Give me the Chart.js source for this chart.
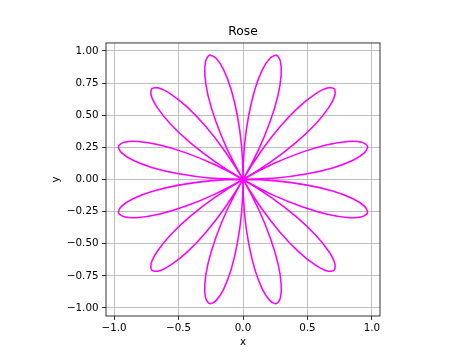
<!DOCTYPE html>
<html>
<head>
<meta charset="utf-8">
<script src="https://cdn.jsdelivr.net/npm/chart.js@4/dist/chart.umd.min.js"></script>
<style>
html,body{margin:0;padding:0;background:#fff;}
canvas{display:block;}
</style>
</head>
<body>
<canvas id="c" width="474" height="355"></canvas>
<script>
// Rose curve points, traced in drawing order
const roseX = [
 0, 0.259, 0.498, 0.701, 0.853, 0.943, 0.966, 0.921, 0.814, 0.653, 0.453, 0.230,
 0, -0.218, -0.410, -0.561, -0.663, -0.712, -0.707, -0.653, -0.557, -0.430, -0.287, -0.139,
 0, 0.120, 0.211, 0.271, 0.296, 0.290, 0.259, 0.209, 0.150, 0.092, 0.044, 0.011,
 0, 0.011, 0.044, 0.092, 0.150, 0.209, 0.259, 0.290, 0.296, 0.271, 0.211, 0.120,
 0, -0.139, -0.287, -0.430, -0.557, -0.653, -0.707, -0.712, -0.663, -0.561, -0.410, -0.218,
 0, 0.230, 0.453, 0.653, 0.814, 0.921, 0.966, 0.943, 0.853, 0.701, 0.498, 0.259,
 0, -0.259, -0.498, -0.701, -0.853, -0.943, -0.966, -0.921, -0.814, -0.653, -0.453, -0.230,
 0, 0.218, 0.410, 0.561, 0.663, 0.712, 0.707, 0.653, 0.557, 0.430, 0.287, 0.139,
 0, -0.120, -0.211, -0.271, -0.296, -0.290, -0.259, -0.209, -0.150, -0.092, -0.044, -0.011,
 0, -0.011, -0.044, -0.092, -0.150, -0.209, -0.259, -0.290, -0.296, -0.271, -0.211, -0.120,
 0, 0.139, 0.287, 0.430, 0.557, 0.653, 0.707, 0.712, 0.663, 0.561, 0.410, 0.218,
 0, -0.230, -0.453, -0.653, -0.814, -0.921, -0.966, -0.943, -0.853, -0.701, -0.498, -0.259,
 0
];
const roseY = [
 0, 0.011, 0.044, 0.092, 0.150, 0.209, 0.259, 0.290, 0.296, 0.271, 0.211, 0.120,
 0, -0.139, -0.287, -0.430, -0.557, -0.653, -0.707, -0.712, -0.663, -0.561, -0.410, -0.218,
 0, 0.230, 0.453, 0.653, 0.814, 0.921, 0.966, 0.943, 0.853, 0.701, 0.498, 0.259,
 0, -0.259, -0.498, -0.701, -0.853, -0.943, -0.966, -0.921, -0.814, -0.653, -0.453, -0.230,
 0, 0.218, 0.410, 0.561, 0.663, 0.712, 0.707, 0.653, 0.557, 0.430, 0.287, 0.139,
 0, -0.120, -0.211, -0.271, -0.296, -0.290, -0.259, -0.209, -0.150, -0.092, -0.044, -0.011,
 0, -0.011, -0.044, -0.092, -0.150, -0.209, -0.259, -0.290, -0.296, -0.271, -0.211, -0.120,
 0, 0.139, 0.287, 0.430, 0.557, 0.653, 0.707, 0.712, 0.663, 0.561, 0.410, 0.218,
 0, -0.230, -0.453, -0.653, -0.814, -0.921, -0.966, -0.943, -0.853, -0.701, -0.498, -0.259,
 0, 0.259, 0.498, 0.701, 0.853, 0.943, 0.966, 0.921, 0.814, 0.653, 0.453, 0.230,
 0, -0.218, -0.410, -0.561, -0.663, -0.712, -0.707, -0.653, -0.557, -0.430, -0.287, -0.139,
 0, 0.120, 0.211, 0.271, 0.296, 0.290, 0.259, 0.209, 0.150, 0.092, 0.044, 0.011,
 0
];
const xTicks = [-1.0, -0.5, 0.0, 0.5, 1.0];
const yTicks = [-1.0, -0.75, -0.5, -0.25, 0.0, 0.25, 0.5, 0.75, 1.0];
const axisMin = -1.0625, axisMax = 1.0625;
const chartTitle = 'Rose';
const xLabel = 'x', yLabel = 'y';

const points = roseX.map((x, i) => ({x: x, y: roseY[i]}));
const FONT = 'DejaVu Sans';
const fmt = (v, d) => { const s = Math.abs(v).toFixed(d); return (v < 0 ? '\u2212' : '') + s; };

const frame = {
  id: 'frame',
  afterDraw(chart) {
    const a = chart.chartArea, ctx = chart.ctx;
    ctx.save();
    ctx.strokeStyle = '#000';
    ctx.lineWidth = 0.8;
    ctx.strokeRect(a.left, a.top, a.right - a.left, a.bottom - a.top);
    ctx.restore();
  }
};

new Chart(document.getElementById('c'), {
  type: 'scatter',
  data: {
    datasets: [{
      data: points,
      showLine: true,
      borderColor: '#ff00ff',
      backgroundColor: '#ff00ff',
      borderWidth: 1.55,
      pointRadius: 0,
      pointHoverRadius: 0,
      tension: 0.3,
      fill: false
    }]
  },
  options: {
    responsive: false,
    animation: false,
    devicePixelRatio: 1,
    layout: { padding: { left: 0, right: 94, top: 0, bottom: 0 } },
    plugins: {
      legend: { display: false },
      tooltip: { enabled: false },
      title: {
        display: true,
        fullSize: false,
        text: chartTitle,
        color: '#000',
        font: { family: FONT, size: 12.3, weight: 'normal' },
        padding: { top: 24.6, bottom: 3.6 }
      }
    },
    scales: {
      x: {
        type: 'linear',
        min: axisMin, max: axisMax,
        afterBuildTicks: s => { s.ticks = xTicks.map(v => ({value: v})); },
        afterFit: s => { s.height = 39; },
        ticks: {
          color: '#000',
          font: { family: FONT, size: 10.3 },
          padding: 2.5,
          maxRotation: 0,
          callback: v => fmt(v, 1)
        },
        grid: { color: '#b0b0b0', lineWidth: 0.8, tickLength: 4, tickColor: '#000', tickWidth: 0.8 },
        border: { display: false },
        title: {
          display: true, text: xLabel, color: '#000',
          font: { family: FONT, size: 10.3 },
          padding: { top: 0, bottom: 6.9 }
        }
      },
      y: {
        type: 'linear',
        min: axisMin, max: axisMax,
        afterBuildTicks: s => { s.ticks = yTicks.map(v => ({value: v})); },
        afterFit: s => { s.width = 106; },
        ticks: {
          color: '#000',
          font: { family: FONT, size: 10.3 },
          padding: 3.5,
          callback: v => fmt(v, 2)
        },
        grid: { color: '#b0b0b0', lineWidth: 0.8, tickLength: 4, tickColor: '#000', tickWidth: 0.8 },
        border: { display: false },
        title: {
          display: true, text: yLabel, color: '#000',
          font: { family: FONT, size: 10.3 },
          padding: { top: 50.5, bottom: 0 }
        }
      }
    }
  },
  plugins: [frame]
});
</script>
</body>
</html>
